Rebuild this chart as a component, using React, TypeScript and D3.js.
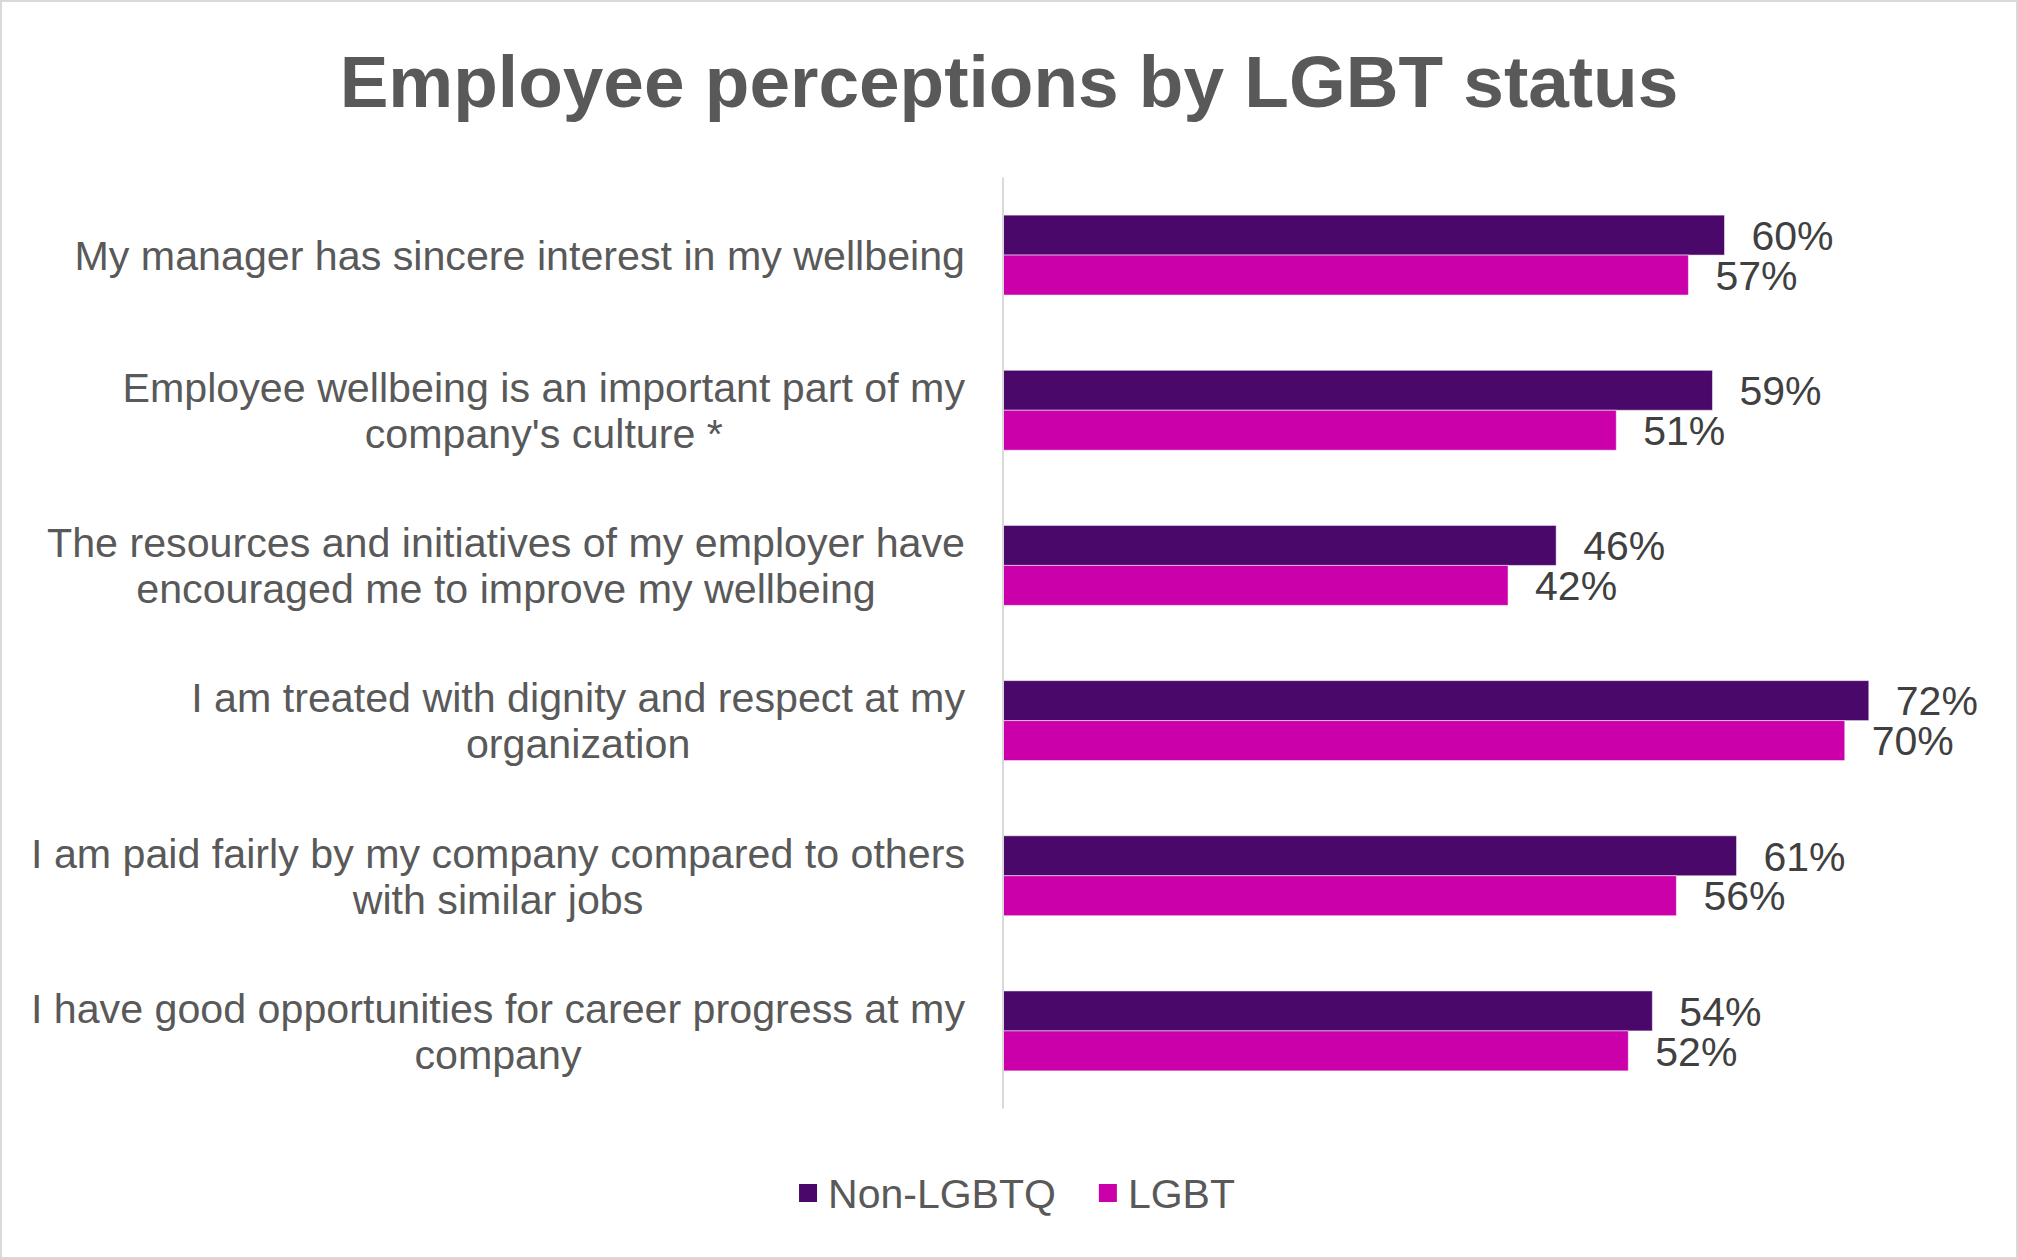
import { useEffect, useRef } from "react";
import * as d3 from "d3";

const WIDTH = 2018;
const HEIGHT = 1259;
const FONT = "'Liberation Sans', Arial, sans-serif";

// category labels, already broken into lines as shown in the chart
const categories = [
  ["My manager has sincere interest in my wellbeing"],
  ["Employee wellbeing is an important part of my", "company's culture *"],
  ["The resources and initiatives of my employer have", "encouraged me to improve my wellbeing"],
  ["I am treated with dignity and respect at my", "organization"],
  ["I am paid fairly by my company compared to others", "with similar jobs"],
  ["I have good opportunities for career progress at my", "company"],
];

const seriesNames = ["Non-LGBTQ", "LGBT"];
const nonLgbtq = [0.6, 0.59, 0.46, 0.72, 0.61, 0.54];
const lgbt = [0.57, 0.51, 0.42, 0.7, 0.56, 0.52];

const COLORS = ["#4a086b", "#cc00aa"];
const LABEL_COLOR = "#595959";
const VALUE_COLOR = "#404040";

type Row = { key: number; values: number[] };

export default function App() {
  const svgRef = useRef<SVGSVGElement>(null);

  useEffect(() => {
    document.body.style.margin = "0";
    const svgElement = svgRef.current;
    if (!svgElement) return;

    const svg = d3.select(svgElement);
    svg.selectAll("*").remove();

    const rows: Row[] = categories.map((_, i) => ({ key: i, values: [nonLgbtq[i], lgbt[i]] }));

    const plotLeft = 1003;
    const plotTop = 177.5;
    const plotBottom = 1108.5;

    const x = d3.scaleLinear().domain([0, 0.8]).range([plotLeft, 1965]);
    const y = d3
      .scaleBand<number>()
      .domain(rows.map((r) => r.key))
      .range([plotTop, plotBottom])
      .paddingInner(0.485)
      .paddingOuter(0.2425);
    const ySub = d3
      .scaleBand<number>()
      .domain([0, 1])
      .range([0, y.bandwidth()]);

    // outer border
    svg
      .append("rect")
      .attr("x", 1)
      .attr("y", 1)
      .attr("width", WIDTH - 2)
      .attr("height", HEIGHT - 2)
      .attr("fill", "#fff")
      .attr("stroke", "#d9d9d9")
      .attr("stroke-width", 2);

    svg
      .append("text")
      .attr("x", 1009)
      .attr("y", 107)
      .attr("text-anchor", "middle")
      .attr("font-family", FONT)
      .attr("font-weight", "bold")
      .attr("font-size", 73)
      .attr("fill", "#595959")
      .text("Employee perceptions by LGBT status");

    // bars
    const groups = svg
      .append("g")
      .selectAll("g.group")
      .data(rows)
      .join("g")
      .attr("class", "group")
      .attr("transform", (d) => `translate(0,${y(d.key)})`);

    groups
      .selectAll("rect")
      .data((d) => d.values.map((v, s) => ({ v, s })))
      .join("rect")
      .attr("x", x(0))
      .attr("y", (d) => ySub(d.s)!)
      .attr("width", (d) => x(d.v) - x(0))
      .attr("height", ySub.bandwidth())
      .attr("fill", (d) => COLORS[d.s])
      .attr("stroke", "#ffffff")
      .attr("stroke-opacity", 0.5)
      .attr("stroke-width", 1);

    groups
      .selectAll("text.value")
      .data((d) => d.values.map((v, s) => ({ v, s })))
      .join("text")
      .attr("class", "value")
      .attr("x", (d) => x(d.v) + 27)
      .attr("y", (d) => ySub(d.s)! + ySub.bandwidth() / 2)
      .attr("dy", "0.36em")
      .attr("font-family", FONT)
      .attr("font-size", 41)
      .attr("fill", VALUE_COLOR)
      .text((d) => d3.format(".0%")(d.v));

    // vertical axis line
    svg
      .append("line")
      .attr("x1", plotLeft)
      .attr("x2", plotLeft)
      .attr("y1", plotTop)
      .attr("y2", plotBottom)
      .attr("stroke", "#d9d9d9")
      .attr("stroke-width", 2);

    // category labels: block right-aligned, lines centred within block
    const labelRight = 965;
    const lineHeight = 46;
    rows.forEach((row) => {
      const lines = categories[row.key];
      const cy = y(row.key)! + y.bandwidth() / 2;
      const g = svg.append("g");
      const texts = lines.map((line, i) =>
        g
          .append("text")
          .attr("y", cy + (i - (lines.length - 1) / 2) * lineHeight)
          .attr("dy", "0.36em")
          .attr("text-anchor", "middle")
          .attr("font-family", FONT)
          .attr("font-size", 41.2)
          .attr("fill", LABEL_COLOR)
          .text(line),
      );
      const widest = d3.max(texts, (t) => (t.node() as SVGTextElement).getComputedTextLength()) ?? 0;
      texts.forEach((t) => t.attr("x", labelRight - widest / 2));
    });

    // legend
    const legend = svg.append("g");
    const legendY = 1193;
    let cursor = 0;
    seriesNames.forEach((name, i) => {
      legend
        .append("rect")
        .attr("x", cursor)
        .attr("y", legendY - 9)
        .attr("width", 18)
        .attr("height", 18)
        .attr("fill", COLORS[i]);
      const t = legend
        .append("text")
        .attr("x", cursor + 29)
        .attr("y", legendY)
        .attr("dy", "0.36em")
        .attr("font-family", FONT)
        .attr("font-size", 41)
        .attr("fill", LABEL_COLOR)
        .text(name);
      cursor += 29 + (t.node() as SVGTextElement).getComputedTextLength() + 43;
    });
    const legendWidth = cursor - 43;
    legend.attr("transform", `translate(${1017 - legendWidth / 2},0)`);
  }, []);

  return <svg ref={svgRef} width={WIDTH} height={HEIGHT} style={{ display: "block" }} />;
}
